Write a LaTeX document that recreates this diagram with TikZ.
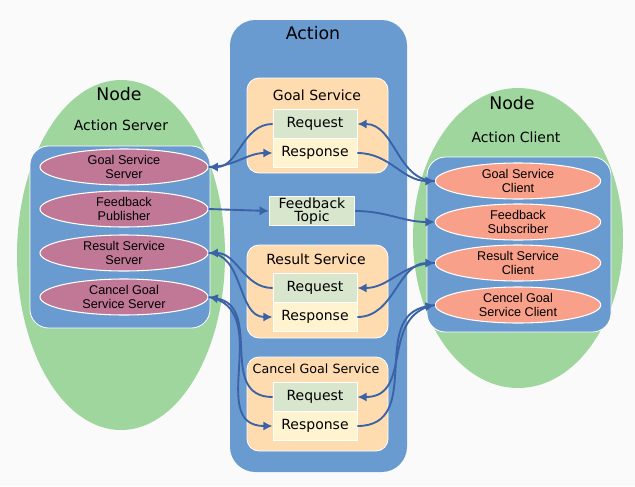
\documentclass[tikz,border=0pt]{standalone}
\usepackage{fontspec}
\setmainfont{DejaVu Sans}
\newfontfamily\lib{Liberation Sans}
\usetikzlibrary{arrows.meta,shapes.geometric}
\definecolor{gr}{HTML}{9ED69E}
\definecolor{bl}{HTML}{6A9BD0}
\definecolor{orb}{HTML}{FFDBB0}
\definecolor{pk}{HTML}{C07896}
\definecolor{sal}{HTML}{F9A08A}
\definecolor{rq}{HTML}{D8E6CE}
\definecolor{rs}{HTML}{FFF3D0}
\definecolor{ar}{HTML}{3A62A6}
\begin{document}
\begin{tikzpicture}[x=0.75pt,y=-0.75pt,
 title/.style={font=\fontsize{13}{14}\selectfont},
 sub/.style={font=\fontsize{10.5}{12}\selectfont},
 el/.style={ellipse,draw=white,line width=0.8pt,minimum width=126pt,minimum height=27pt,inner sep=0pt,align=center,font=\lib\fontsize{9.5}{10.5}\selectfont},
 bx/.style={draw=white,line width=0.6pt,minimum width=63pt,minimum height=21.5pt,inner sep=0pt,font=\fontsize{10.5}{11.5}\selectfont,align=center},
 grp/.style={fill=orb,draw=white,line width=0.6pt,rounded corners=9pt},
 con/.style={draw=ar,line width=1.4pt,-{Latex[length=7pt,width=7pt]}}]
\useasboundingbox[fill=white!98!black] (0,0) rectangle (635,486);
% left node
\fill[gr] (121,255) ellipse [x radius=104, y radius=175];
\node[title] (ln) at (119,94) {Node};
\node[sub] (las) at (121,125) {Action Server};
\filldraw[fill=bl,draw=white,line width=0.6pt,rounded corners=14pt] (30,146) rectangle (210,328);
\node[el,fill=pk] (gss) at (124,167) {Goal Service\\Server};
\node[el,fill=pk] (fp) at (124,209) {Feedback\\Publisher};
\node[el,fill=pk] (rss) at (124,253) {Result Service\\Server};
\node[el,fill=pk] (cgs) at (124,297) {Cancel Goal\\Service Server};
% right node
\fill[gr] (518,238) ellipse [x radius=105, y radius=150];
\node[title] (rn) at (512,103) {Node};
\node[sub] (rac) at (516,137) {Action Client};
\filldraw[fill=bl,draw=white,line width=0.6pt,rounded corners=14pt] (427,157) rectangle (611,332);
\node[el,fill=sal,minimum width=124pt] (gsc) at (518,181) {Goal Service\\Client};
\node[el,fill=sal,minimum width=124pt] (fs) at (518,222) {Feedback\\Subscriber};
\node[el,fill=sal,minimum width=124pt] (rsc) at (518,263) {Result Service\\Client};
\node[el,fill=sal,minimum width=124pt] (cgc) at (518,305) {Cencel Goal\\Service Client};
% action
\fill[bl,rounded corners=19pt] (230,20) rectangle (407,472);
\node[title] (act) at (313,33) {Action};
\filldraw[grp] (247,78) rectangle (388,173);
\node[sub] (gst) at (317,95) {Goal Service};
\node[bx,fill=rq] (r1) at (315,124) {Request};
\node[bx,fill=rs] (p1) at (315,153) {Response};
\node[bx,fill=rq,minimum width=64pt,minimum height=22pt] (ft) at (312,211) {Feedback\\[-2pt]Topic};
\filldraw[grp] (247,245) rectangle (388,338);
\node[sub] (rst) at (316,259) {Result Service};
\node[bx,fill=rq] (r2) at (315,288) {Request};
\node[bx,fill=rs] (p2) at (315,317) {Response};
\filldraw[grp] (247,357) rectangle (388,451);
\node[font=\fontsize{9.5}{11}\selectfont] (cst) at (316,369) {Cancel Goal Service};
\node[bx,fill=rq] (r3) at (315,397) {Request};
\node[bx,fill=rs] (p3) at (315,426) {Response};
% connectors left
\draw[con] (r1.west) to[out=180,in=0] (gss.east);
\draw[con] (gss.east) to[out=0,in=180] (p1.west);
\draw[con] (fp.east) -- (ft.west);
\draw[con] (r2.west) to[out=180,in=0] (rss.east);
\draw[con] (rss.east) to[out=0,in=180] (p2.west);
\draw[con] (r3.west) to[out=180,in=-10,looseness=1.2] (cgs.east);
\draw[con] (cgs.east) to[out=-10,in=180,looseness=1.2] (p3.west);
% connectors right
\draw[con] (gsc.west) to[out=180,in=0] (r1.east);
\draw[con] (p1.east) to[out=0,in=180] (gsc.west);
\draw[con] (ft.east) to[out=0,in=180] (fs.west);
\draw[con] (rsc.west) to[out=180,in=0] (r2.east);
\draw[con] (p2.east) to[out=0,in=180] (rsc.west);
\draw[con] (cgc.west) to[out=190,in=0,looseness=1.2] (r3.east);
\draw[con] (p3.east) to[out=0,in=190,looseness=1.2] (cgc.west);
\end{tikzpicture}
\end{document}
